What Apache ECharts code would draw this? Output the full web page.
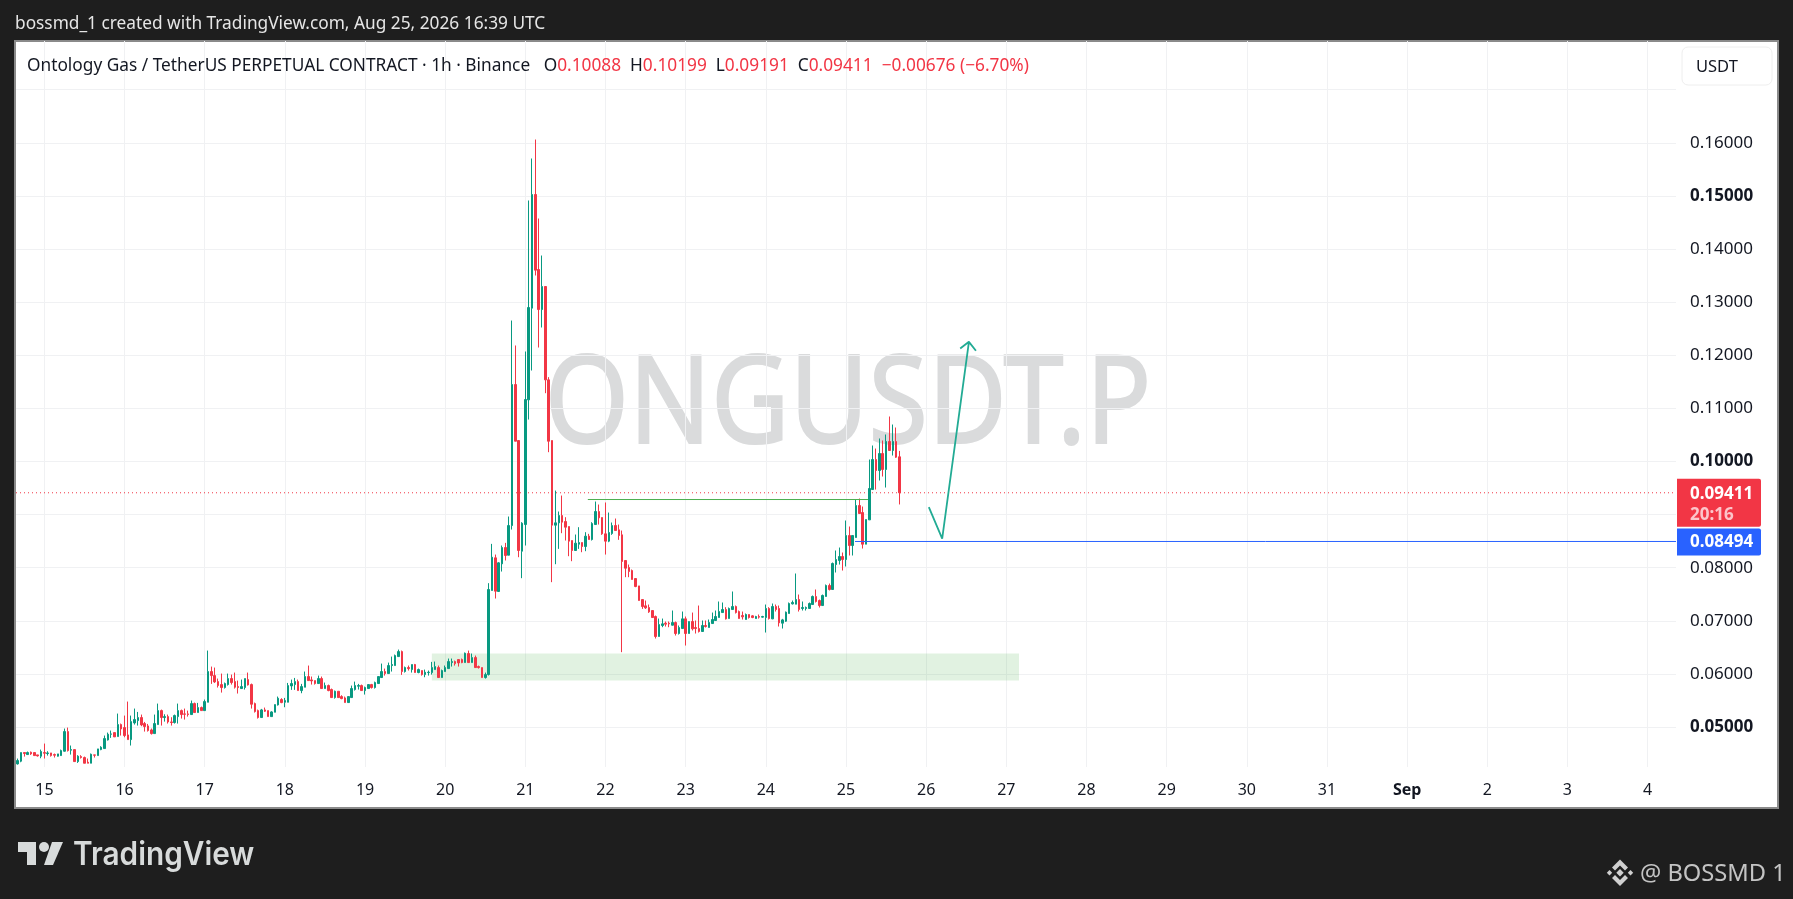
<!DOCTYPE html>
<html><head><meta charset="utf-8">
<style>html,body{margin:0;padding:0;background:#1e1e1e}#c{width:1793px;height:899px}</style>
<script src="https://cdn.jsdelivr.net/npm/echarts@6/dist/echarts.min.js"></script>
</head><body><div id="c"></div>
<script>
// Candles, hourly, in 1e-5 USDT: [open, close, high, low]
const candles = [
[4306,4369,4407,4294],[4357,4520,4520,4338],[4520,4501,4520,4444],[4482,4520,4539,4476],[4526,4495,4539,4476],[4520,4463,4520,4463],[4476,4457,4476,4444],[4451,4539,4576,4413],
[4520,4507,4689,4407],[4501,4513,4545,4463],[4513,4463,4513,4444],[4482,4470,4501,4426],[4451,4495,4495,4444],[4463,4557,4576,4457],[4545,4915,4972,4539],[4915,4557,4990,4539],
[4564,4576,4652,4482],[4576,4350,4576,4350],[4350,4451,4470,4325],[4444,4426,4470,4407],[4426,4319,4444,4319],[4338,4319,4407,4319],[4319,4488,4501,4319],[4476,4470,4476,4426],
[4463,4589,4589,4463],[4576,4620,4639,4564],[4595,4783,4840,4595],[4758,4865,4896,4746],[4865,4871,4934,4796],[4896,4815,4896,4815],[4821,5047,5254,4821],[5047,4965,5066,4840],
[4990,4840,5216,4808],[4852,4764,5480,4764],[4764,5103,5216,4652],[5078,5141,5348,5047],[5122,5179,5285,5028],[5179,5041,5235,5016],[5066,5009,5097,4915],[5022,4934,5059,4915],
[4946,4877,4972,4859],[4877,5066,5235,4877],[5047,5310,5442,5047],[5310,5179,5329,5028],[5179,5197,5241,5103],[5197,5097,5235,5066],[5097,5085,5185,5028],[5085,5216,5235,5066],
[5197,5310,5442,5066],[5310,5235,5329,5160],[5248,5241,5348,5141],[5248,5235,5310,5197],[5235,5442,5499,5235],[5442,5273,5461,5273],[5273,5367,5455,5273],[5367,5310,5386,5310],
[5310,5480,5518,5310],[5467,6045,6440,5467],[6045,5969,6139,5813],[5969,5850,6120,5831],[5856,5781,5913,5744],[5800,5744,6007,5649],[5744,5819,5838,5725],[5800,5913,6007,5781],
[5913,5838,5988,5800],[5856,5750,6026,5725],[5762,5744,5875,5631],[5725,5762,5894,5725],[5744,5913,5913,5706],[5894,5794,6026,5781],[5800,5430,5819,5348],[5442,5292,5461,5273],
[5310,5179,5329,5160],[5179,5323,5342,5179],[5323,5298,5367,5285],[5310,5197,5310,5197],[5197,5285,5298,5197],[5279,5423,5423,5279],[5417,5543,5574,5405],[5518,5461,5543,5449],
[5467,5499,5549,5373],[5467,5781,5831,5467],[5775,5819,5894,5700],[5800,5856,5925,5700],[5856,5687,5894,5687],[5687,5762,5813,5637],[5750,5951,6045,5750],[5951,5875,6158,5875],
[5888,5869,5951,5800],[5875,5819,5875,5800],[5819,5913,5969,5813],[5913,5725,5951,5725],[5725,5781,5838,5725],[5781,5687,5800,5674],[5706,5555,5725,5555],[5555,5674,5687,5536],
[5674,5555,5674,5555],[5574,5536,5599,5524],[5549,5461,5574,5461],[5461,5574,5574,5461],[5555,5725,5781,5555],[5706,5781,5856,5687],[5769,5781,5813,5706],[5781,5687,5800,5687],
[5687,5744,5762,5612],[5725,5800,5800,5725],[5800,5744,5813,5725],[5744,5838,5856,5725],[5819,5951,5951,5819],[5932,6045,6195,5932],[6045,6007,6101,5969],[6007,6158,6214,6007],
[6158,6177,6327,6045],[6158,6346,6365,6158],[6327,6421,6459,6327],[6421,6045,6440,5982],[6045,6120,6139,6026],[6120,6101,6158,6064],[6082,6177,6177,6026],[6177,6026,6189,6026],
[6026,6082,6101,6013],[6064,5988,6064,5969],[5988,6032,6082,5938],[6026,6032,6064,5969],[6026,6120,6227,5988],[6082,6139,6233,6082],[6120,5932,6158,5932],[5932,6064,6082,5932],
[6045,6120,6158,6045],[6101,6233,6290,6101],[6214,6233,6290,6139],[6233,6195,6252,6158],[6271,6208,6271,6139],[6271,6214,6290,6202],[6214,6390,6403,6214],[6384,6214,6440,6214],
[6214,6308,6384,6214],[6308,6120,6346,6120],[6139,6120,6158,6101],[6120,5932,6120,5932],[5932,5988,6026,5913],[5989,7590,7709,5970],[7571,8198,8449,7571],[8186,7558,8248,7420],
[7552,8092,8104,7552],[8073,8380,8418,7928],[8380,8230,8468,8136],[8236,8794,8964,8236],[8794,11449,12654,8719],[11449,10382,12184,10382],[10395,8324,10395,8198],[8311,8838,8857,7803],
[8813,11167,12071,8418],[11161,12899,14914,10790],[12887,15027,15705,11713],[15027,13602,16062,13502],[13615,12861,14575,12146],[12861,13295,13878,12523],[13295,11537,13295,11286],[11537,10382,11588,10175],
[10395,8801,10395,7728],[8801,8845,9453,8066],[8845,8983,9058,8355],[8983,8857,9359,8650],[8870,8763,8951,8512],[8776,8500,8776,8217],[8512,8324,8512,8123],[8324,8462,8625,8324],
[8443,8474,8763,8355],[8474,8399,8474,8292],[8399,8594,8669,8311],[8594,8531,8638,8531],[8531,8832,8857,8512],[8813,9058,9246,8813],[9058,8939,9190,8813],[8945,8638,8945,8619],
[8638,8500,9228,8248],[8500,8663,9039,8481],[8644,8794,8851,8619],[8794,8700,8926,8700],[8713,8606,8813,8525],[8619,8117,8700,6410],[8136,7991,8136,7822],[8004,7928,8060,7822],
[7947,7778,7966,7778],[7797,7646,7797,7633],[7658,7382,7658,7382],[7401,7269,7401,7225],[7282,7244,7382,7225],[7251,7169,7307,7150],[7194,7062,7194,7062],[7081,6705,7100,6667],
[6705,6930,7043,6705],[6912,6943,7043,6880],[6956,6937,6987,6893],[6956,6943,6987,6880],[6918,6968,7194,6912],[6968,6761,6987,6723],[6761,6874,6912,6742],[6855,7037,7175,6855],
[7037,6761,7081,6535],[6761,6987,6987,6761],[6987,6849,7156,6818],[6874,6855,7006,6761],[6855,6799,7288,6780],[6799,6912,7006,6799],[6912,6893,7006,6874],[6874,6968,7025,6874],
[6949,7025,7156,6949],[7006,7081,7194,7006],[7062,7175,7364,7062],[7156,7213,7345,7156],[7213,7037,7257,7025],[7043,7232,7251,7043],[7213,7269,7552,7213],[7269,7156,7288,7138],
[7175,7043,7194,7043],[7100,7075,7175,7025],[7025,7119,7138,7025],[7119,7062,7119,7043],[7094,7062,7106,7050],[7043,7081,7094,7043],[7081,7069,7119,7043],[7069,7081,7094,7062],
[7062,7232,7307,6780],[7232,7043,7257,7025],[7037,7269,7326,7031],[7269,7213,7307,7175],[7232,6962,7288,6893],[6956,7018,7037,6855],[6993,7163,7175,6981],[7138,7326,7345,7138],
[7320,7345,7382,7307],[7313,7401,7891,7313],[7401,7213,7495,7175],[7232,7251,7364,7194],[7232,7251,7269,7194],[7232,7326,7345,7232],[7307,7458,7477,7307],[7458,7364,7590,7345],
[7382,7288,7401,7251],[7288,7477,7495,7288],[7458,7665,7684,7458],[7665,7590,7702,7571],[7590,8079,8098,7590],[8060,8154,8324,7910],[8136,8211,8380,8060],[8211,8154,8286,7947],
[8154,8606,8889,8023],[8606,8418,8776,8230],[8418,8606,8606,8230],[8568,9171,9284,8568],[9171,9020,9303,9020],[9039,8443,9152,8361],[8443,8907,8907,8443],[8901,9491,10037,8901],
[9472,10037,10301,9472],[10037,9830,10244,9472],[9830,10150,10433,9642],[10150,9849,10395,9717],[9849,10376,10508,9510],[10376,10207,10847,10207],[10207,10376,10696,10112],[10376,10081,10640,10068],
[10088,9411,10199,9191]
];
const priceUnit = 1e-5;
const hoursBeforeFirstDay = 8;
const hoursPerDay = 24;
const dayLabels = ['15','16','17','18','19','20','21','22','23','24','25','26','27','28','29','30','31','Sep','2','3','4'];
const slotCount = 497;
const priceTicks = [0.05,0.06,0.07,0.08,0.09,0.10,0.11,0.12,0.13,0.14,0.15,0.16,0.17];
const priceLabels = [0.05,0.06,0.07,0.08,0.10,0.11,0.12,0.13,0.14,0.15,0.16];
const boldPrices = ['0.05000','0.10000','0.15000'];
const lastPrice = 0.09411;
const bluePrice = 0.08494;
const blueLine = [[250.7,bluePrice],[496.5,bluePrice]];
const greenLine = [[170.7,0.09284],[254.6,0.09284]];
const arrowPath = [[272.8,0.09142],[276.8,0.08546],[284.8,0.12253],[282.2,0.12129],[284.8,0.12253],[286.9,0.12084]];
const zoneBox = [[124,0.06384],[299.8,0.05876]];
const ohlcLegend = [['O','0.10088'],['H','0.10199'],['L','0.09191'],['C','0.09411']];
const legendChange = '−0.00676 (−6.70%)';

const UP='#089981', DOWN='#f23645', FONT='"Noto Sans","Open Sans",sans-serif';
const categories = Array.from({length:slotCount},(_,i)=>{
  const k=i-hoursBeforeFirstDay;
  return (k>=0 && k%hoursPerDay===0) ? (dayLabels[k/hoursPerDay]||'') : '';
});
const isDay = i => i>=hoursBeforeFirstDay && (i-hoursBeforeFirstDay)%hoursPerDay===0;
const candleData = candles.map(c=>[c[0]*priceUnit,c[1]*priceUnit,c[3]*priceUnit,c[2]*priceUnit]);

const chart = echarts.init(document.getElementById('c'),null,{renderer:'canvas'});
const gridLine={show:true,lineStyle:{color:'#f0f1f3',width:1}};
chart.setOption({
  animation:false,
  backgroundColor:'#1e1e1e',
  grid:{left:16,right:117,top:41,height:726,containLabel:false},
  xAxis:[
    {type:'category',data:categories,boundaryGap:true,
     axisLine:{show:false},axisTick:{show:false},
     splitLine:Object.assign({interval:(i)=>isDay(i),alignWithLabel:true},gridLine),
     axisLabel:{interval:(i)=>isDay(i),margin:15,color:'#131722',fontFamily:FONT,fontSize:16,
       formatter:v=>v==='Sep'?'{b|Sep}':v,rich:{b:{fontWeight:'bold',fontFamily:FONT,fontSize:16,color:'#131722'}}}},
    {type:'value',min:-0.5,max:slotCount-0.5,show:false,splitLine:{show:false}}
  ],
  yAxis:[{type:'value',position:'right',min:0.04248,max:0.17917,
     axisLine:{show:false},
     axisTick:{show:false,customValues:priceTicks},
     splitLine:gridLine,
     axisLabel:{margin:14,customValues:priceLabels,color:'#131722',fontFamily:FONT,fontSize:17,
       formatter:v=>{const s=v.toFixed(5);return boldPrices.includes(s)?'{b|'+s+'}':s;},
       rich:{b:{fontWeight:'bold',fontFamily:FONT,fontSize:17,color:'#131722'}}}}],
  series:[
    {type:'line',xAxisIndex:1,yAxisIndex:0,data:[],silent:true,z:1,
     markArea:{silent:true,itemStyle:{color:'rgba(76,175,80,0.17)'},
       data:[[{coord:zoneBox[0]},{coord:zoneBox[1]}]]}},
    {type:'line',xAxisIndex:1,yAxisIndex:0,data:[[-0.5,lastPrice],[slotCount-0.5,lastPrice]],symbol:'none',silent:true,z:2,
     lineStyle:{color:DOWN,width:1,type:[1,3]}},
    {type:'candlestick',xAxisIndex:0,yAxisIndex:0,data:candleData,barWidth:2,silent:true,z:3,
     itemStyle:{color:UP,color0:DOWN,borderColor:UP,borderColor0:DOWN,borderWidth:1}},
    {type:'line',xAxisIndex:1,yAxisIndex:0,data:greenLine,symbol:'none',silent:true,z:4,lineStyle:{color:'#4caf50',width:1}},
    {type:'line',xAxisIndex:1,yAxisIndex:0,data:blueLine,symbol:'none',silent:true,z:4,lineStyle:{color:'#2962ff',width:1}},
    {type:'line',xAxisIndex:1,yAxisIndex:0,data:arrowPath,symbol:'none',silent:true,z:5,lineStyle:{color:'#22ab94',width:1.8}}
  ]
});

const yLast = chart.convertToPixel({yAxisIndex:0},lastPrice);
const yBlue = chart.convertToPixel({yAxisIndex:0},bluePrice);
const legendRich = {t:{fontFamily:FONT,fontSize:17.3,fill:'#131722'},v:{fontFamily:FONT,fontSize:17.3,fill:DOWN}};
const legendText = '{t|Ontology Gas / TetherUS PERPETUAL CONTRACT · 1h · Binance}   ' +
  ohlcLegend.map(p=>'{t|'+p[0]+'}{v|'+p[1]+'}').join('  ') + '  {v|'+legendChange+'}';
const LOGO='#d8dbdb';
const txt=(x,y,text,size,fill,extra)=>({type:'text',x,y,z:100,silent:true,style:Object.assign({text,fill,fontFamily:FONT,fontSize:size,verticalAlign:'middle'},extra||{})});
const poly=(pts,fill,z)=>({type:'polygon',z:z||100,silent:true,shape:{points:pts},style:{fill}});
chart.setOption({graphic:{elements:[
  {type:'rect',z:-10,silent:true,shape:{x:15,y:41,width:1763,height:767},style:{fill:'#fff',stroke:'#8a8a8a',lineWidth:2}},
  {type:'text',z:-5,x:848,y:408,silent:true,scaleX:0.885,style:{text:'ONGUSDT.P',fill:'#dadbdc',stroke:'#dadbdc',lineWidth:2,fontFamily:FONT,fontSize:122,align:'center',verticalAlign:'middle'}},
  txt(15,24,'bossmd_1 created with TradingView.com, Aug 25, 2026 16:39 UTC',17.3,'#e6e6e6'),
  {type:'text',x:27,y:66,z:100,silent:true,style:{text:legendText,rich:legendRich,fontFamily:FONT,fontSize:17.3,fill:'#131722',verticalAlign:'middle'}},
  {type:'rect',z:100,silent:true,shape:{x:1682,y:47,width:90,height:38,r:6},style:{fill:'#fff',stroke:'#eeeeee',lineWidth:1}},
  txt(1696,67,'USDT',16.5,'#131722'),
  {type:'rect',z:100,silent:true,shape:{x:1677,y:yLast-14,width:84,height:48,r:[0,2,2,0]},style:{fill:DOWN}},
  txt(1690,yLast+1,lastPrice.toFixed(5),17,'#ffffff',{fontWeight:'bold'}),
  txt(1690,yLast+22,'20:16',17,'#fcc5ca',{fontWeight:'bold'}),
  {type:'rect',z:100,silent:true,shape:{x:1677,y:yBlue-13,width:84,height:27,r:[0,2,2,0]},style:{fill:'#2962ff'}},
  txt(1690,yBlue+1,bluePrice.toFixed(5),17,'#ffffff',{fontWeight:'bold'}),
  poly([[18,842],[36,842],[36,865],[27,865],[27,852],[18,852]],LOGO),
  {type:'circle',z:100,silent:true,shape:{cx:44,cy:847,r:5},style:{fill:LOGO}},
  poly([[52,842],[63,842],[53,865],[44,865]],LOGO),
  {type:'text',x:73,y:855,z:100,silent:true,scaleX:0.93,style:{text:'TradingView',fill:LOGO,fontSize:32,fontWeight:600,fontFamily:'Inter,"Noto Sans",sans-serif',verticalAlign:'middle'}},
  poly([[1620,859.5],[1628,867.5],[1625,870.5],[1620,865.5],[1615,870.5],[1612,867.5]],'#d0d0d0'),
  poly([[1620,886],[1628,878],[1625,875],[1620,880],[1615,875],[1612,878]],'#d0d0d0'),
  poly([[1620,869],[1623.7,872.7],[1620,876.4],[1616.3,872.7]],'#d0d0d0'),
  poly([[1609.5,870],[1612.2,872.7],[1609.5,875.4],[1606.8,872.7]],'#d0d0d0'),
  poly([[1630.5,870],[1633.2,872.7],[1630.5,875.4],[1627.8,872.7]],'#d0d0d0'),
  txt(1640,874,'@ BOSSMD 1',23.7,'#c4c4c4')
]}});
</script></body></html>
